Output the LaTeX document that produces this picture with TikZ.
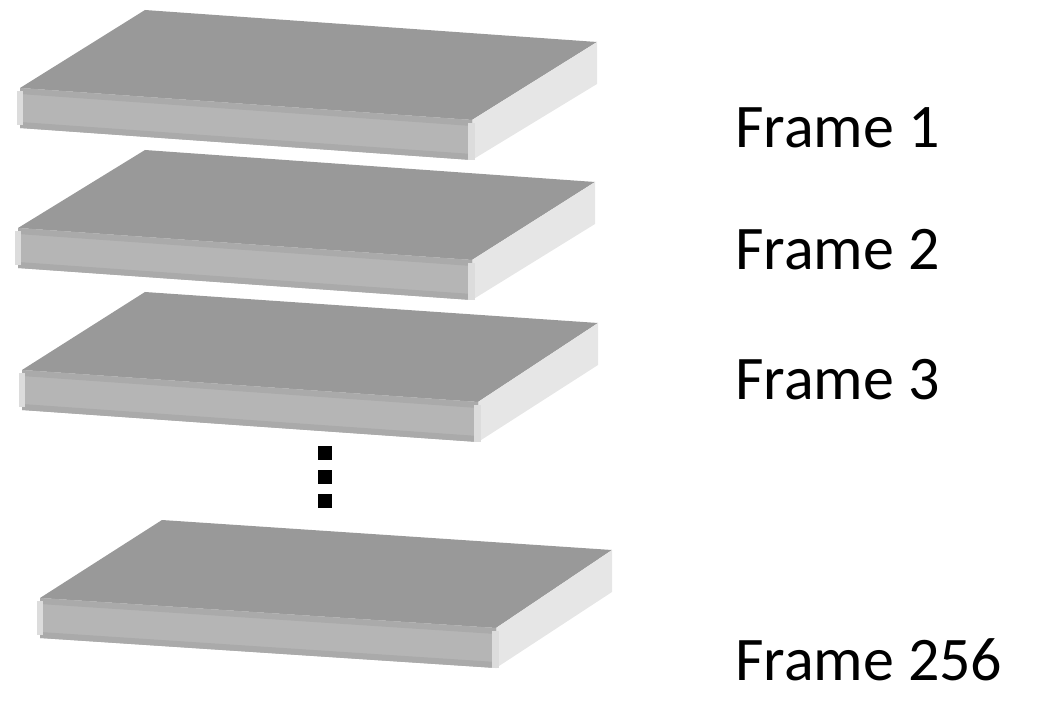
\documentclass[tikz,border=0pt]{standalone}
\usepackage{fontspec}
\setmainfont{Carlito}
\definecolor{topc}{HTML}{999999}
\definecolor{frontc}{HTML}{B5B5B5}
\definecolor{stripc}{HTML}{AAAAAA}
\definecolor{sidec}{HTML}{E6E6E6}
\definecolor{endc}{HTML}{DCDCDC}
\newcommand\myslab[8]{%
 % #1,#2 front-left top; #3,#4 front-right top; #5,#6 back-right; #7,#8 back-left
 \fill[topc] (#1,#2) -- (#3,#4) -- (#5,#6) -- (#7,#8) -- cycle;
 \fill[sidec] (#3,#4) -- (#5,#6) -- (#5,#6+42) -- (#3,#4+40) -- cycle;
 \fill[frontc] (#1,#2) -- (#3,#4) -- (#3,#4+40) -- (#1,#2+40) -- cycle;
 \fill[stripc] (#1,#2) -- (#3,#4) -- (#3,#4+6) -- (#1,#2+6) -- cycle;
 \fill[stripc] (#1,#2+34) -- (#3,#4+34) -- (#3,#4+40) -- (#1,#2+40) -- cycle;
 \fill[endc] (#1-3,#2+3) rectangle (#1+3,#2+37);
 \fill[endc] (#3-4,#4+3) rectangle (#3+3,#4+40);
}
\begin{document}
\begin{tikzpicture}[x=1pt,y=-1pt,lab/.style={anchor=west,font=\fontsize{62}{70}\selectfont,inner sep=0pt}]
\useasboundingbox (0,0) rectangle (1045,703);
\myslab{20}{88}{472}{120}{597}{42}{145}{10}
\myslab{18}{228}{472}{260}{595}{182}{145}{150}
\myslab{22}{370}{478}{402}{598}{323}{145}{292}
\myslab{40}{598}{496}{628}{612}{550}{162}{520}
\foreach \y/\n in {453/d1,477/d2,501/d3}
  \fill (318,\y-7) rectangle (332,\y+7) coordinate (\n);
\node[lab] (f1) at (735,128) {Frame 1};
\node[lab] (f2) at (735,250) {Frame 2};
\node[lab] (f3) at (735,380) {Frame 3};
\node[lab] (f256) at (735,660) {Frame 256};
\end{tikzpicture}
\end{document}
